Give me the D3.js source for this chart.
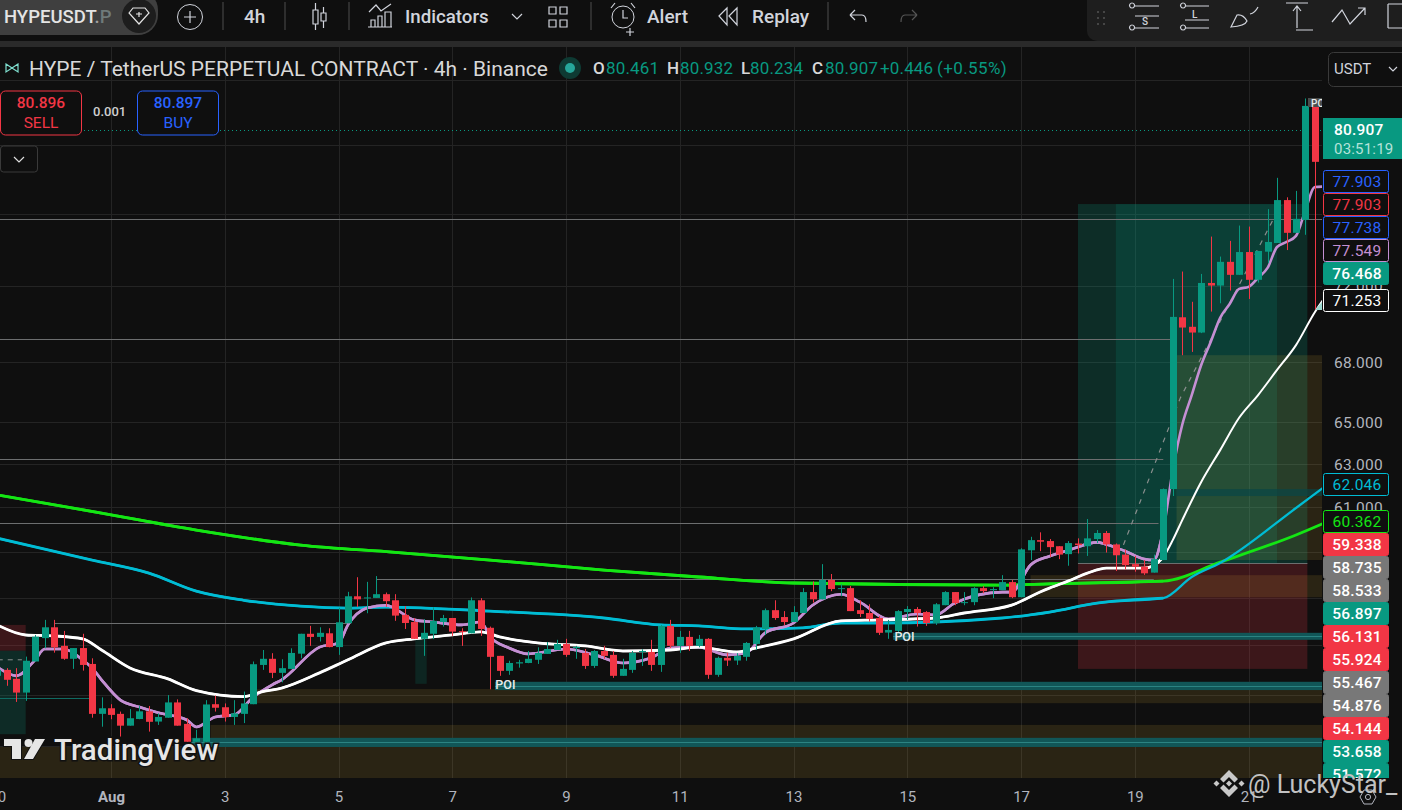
<!DOCTYPE html>
<html lang="en">

<head>
    <meta charset="UTF-8" />
    <title>HYPEUSDT.P 4h</title>
    <script src="https://d3js.org/d3.v7.min.js"></script>
    <style>
        html, body { margin: 0; padding: 0; background: #0f0f0f; overflow: hidden; }
        svg { display: block; }
        text { font-family: Roboto, sans-serif; }
        .tick line, .domain { display: none; }
    </style>
</head>

<body>
    <div id="chart"></div>

    <script>
        // candles, 4h bars, bar 0 = Aug 1 00:00, first bar = -12
        const firstBar = -12;
        const opens = [
            53.76,54.00,53.64,53.09,54.34,55.30,55.75,54.98,54.45,54.89,
            54.24,52.25,52.47,52.25,51.79,52.05,52.35,51.95,52.10,52.70,
            51.86,51.17,51.17,52.63,52.51,52.13,52.25,52.63,54.20,54.45,
            53.88,54.04,54.66,55.48,55.35,55.50,54.93,55.92,57.06,56.99,
            56.99,57.15,56.89,56.27,55.97,55.27,55.48,55.97,56.14,55.59,
            55.50,56.89,55.73,54.57,53.96,54.26,54.28,54.41,54.65,54.81,
            55.06,54.89,54.69,54.16,54.77,54.61,53.76,54.00,54.74,54.73,
            54.20,55.81,54.98,55.35,54.98,55.27,53.80,54.49,54.38,54.53,
            55.06,55.68,56.47,56.18,55.97,56.35,57.24,56.93,57.76,57.38,
            57.41,56.47,56.35,56.14,55.53,55.60,56.39,56.52,56.39,55.93,
            56.68,57.24,56.78,56.81,57.41,57.32,57.32,57.67,57.02,59.06,
            59.51,59.47,59.24,58.89,59.36,59.24,59.56,59.83,59.32,58.87,
            58.45,58.34,58.08,58.63,61.83,70.32,69.82,69.52,72.15,72.01,
            73.30,72.59,73.84,72.32,73.86,74.34,76.77,74.91,75.64,82.38
        ];
        const highs = [
            54.20,54.07,54.07,54.54,55.43,56.06,56.06,55.60,54.89,55.48,
            54.47,52.90,52.63,52.34,52.44,52.57,52.56,52.27,52.99,52.82,
            52.08,51.63,52.79,52.97,52.66,52.79,53.13,54.34,54.81,54.68,
            54.43,54.88,55.48,55.81,55.75,55.71,56.57,57.25,57.88,57.68,
            57.93,57.22,57.15,56.64,56.13,56.09,56.59,56.27,56.14,55.71,
            57.01,56.98,55.78,54.57,54.37,54.41,54.77,54.92,55.14,55.23,
            55.27,54.98,54.85,54.81,54.98,54.77,54.45,54.77,54.84,55.23,
            55.85,56.06,55.60,55.60,55.43,55.30,54.54,54.70,54.68,55.14,
            55.81,56.54,56.89,56.43,56.64,57.41,57.70,58.45,58.02,57.58,
            57.50,56.89,56.72,56.22,56.06,56.47,56.64,56.60,56.43,56.77,
            57.28,57.24,57.24,57.45,57.50,57.45,57.97,57.76,59.15,59.66,
            59.86,59.56,59.24,59.47,59.59,60.46,59.96,59.92,59.36,59.10,
            58.81,58.63,58.87,61.86,72.37,72.77,71.14,72.64,74.70,73.59,
            74.46,75.32,75.26,73.90,76.25,78.06,76.93,77.30,82.84,82.54
        ];
        const lows = [
            53.60,53.36,52.72,52.76,54.34,54.88,54.70,54.41,54.04,53.97,
            52.10,51.75,52.04,51.37,51.79,52.04,51.56,51.82,52.10,51.79,
            51.17,51.17,51.13,52.34,51.95,51.82,51.89,52.63,54.00,53.67,
            53.50,54.04,54.47,54.98,55.16,54.92,54.61,55.92,56.61,56.34,
            56.99,56.61,56.02,55.68,55.27,54.57,55.26,55.78,55.39,54.98,
            55.50,55.39,53.22,53.76,53.80,54.09,54.27,54.24,54.65,54.81,
            54.53,54.45,54.04,54.08,54.45,53.68,53.76,53.88,54.16,53.96,
            53.92,54.89,54.69,54.77,54.92,53.64,53.72,54.16,54.20,54.37,
            54.81,55.43,56.06,55.84,55.97,56.35,56.79,56.93,57.28,57.06,
            56.43,56.18,55.99,55.43,55.27,55.52,56.06,55.78,55.81,55.85,
            56.68,56.68,56.68,56.68,57.19,56.98,57.32,56.98,57.02,58.63,
            59.02,58.77,58.67,58.38,58.92,58.81,59.38,58.96,58.15,58.22,
            58.12,57.98,58.08,58.63,61.51,68.35,68.52,69.49,70.62,71.06,
            71.74,72.59,71.29,72.17,73.23,74.34,73.95,74.91,74.80,70.71
        ];
        const closes = [
            54.00,53.60,53.09,54.37,55.36,55.75,54.92,54.45,54.89,54.20,
            52.25,52.47,52.21,51.79,52.08,52.35,51.94,52.13,52.70,51.79,
            51.17,51.30,52.62,52.49,52.12,52.27,52.66,54.23,54.45,53.88,
            54.07,54.69,55.48,55.35,55.52,54.93,55.96,57.06,56.93,57.01,
            57.15,56.85,56.24,55.93,55.27,55.52,56.02,56.14,55.57,55.56,
            56.89,55.68,54.53,53.96,54.28,54.31,54.45,54.69,54.85,55.06,
            54.61,54.94,54.16,54.77,54.57,53.76,54.04,54.69,54.77,54.20,
            55.81,54.98,55.35,54.98,55.27,53.80,54.49,54.38,54.57,55.10,
            55.73,56.47,56.14,55.97,56.39,57.24,56.93,57.76,57.37,57.41,
            56.43,56.31,56.10,55.52,55.64,56.43,56.52,56.35,55.93,56.72,
            57.24,56.77,56.81,57.41,57.28,57.37,57.67,57.02,59.10,59.51,
            59.44,59.20,58.87,59.38,59.29,59.59,59.83,59.32,58.84,58.41,
            58.34,58.05,58.67,61.83,70.34,69.78,69.52,72.15,72.01,73.30,
            72.59,73.84,72.32,73.90,74.40,76.77,74.91,75.70,82.38,79.00
        ];

        // moving averages: [bar, price]
        const purpleMa = [[-12,54.12],[-10,53.76],[-8,54.41],[-7,54.85],[-5,54.85],[-3,54.41],[-2,54.08],[-1,53.60],[1,52.79],[3,52.52],[5,52.29],[8,52.01],[9,51.74],[11,52.13],[13,52.21],[15,52.91],[17,53.40],[18,53.60],[22,54.93],[24,55.10],[25,55.85],[27,56.56],[29,56.68],[32,56.06],[34,55.97],[37,55.85],[39,55.97],[40,55.35],[42,54.89],[44,54.65],[45,54.69],[48,54.85],[51,54.61],[54,54.28],[57,54.49],[59,54.89],[62,54.93],[65,54.61],[67,54.69],[69,55.52],[72,55.93],[74,56.68],[77,57.15],[79,56.81],[82,56.10],[85,56.31],[87,56.27],[89,56.77],[94,57.24],[95,57.24],[97,58.41],[99,58.80],[101,59.06],[104,59.41],[105,59.32],[107,59.02],[109,58.67],[110,58.63],[111,59.96],[112,62.72],[113,64.88],[114,66.34],[115,67.85],[116,69.03],[117,70.29],[118,71.02],[119,71.83],[120,71.94],[121,72.43],[122,72.97],[123,74.12],[124,74.40],[125,74.74],[126,76.21],[127,77.53],[128,77.55]];
        const whiteMa = [[-12,55.85],[-9,55.43],[-6,55.39],[-3,55.27],[-1,54.81],[2,54.08],[6,53.64],[9,53.17],[14,52.93],[16,53.13],[18,53.27],[22,53.88],[25,54.41],[29,55.10],[32,55.27],[36,55.43],[39,55.56],[41,55.35],[45,55.10],[50,54.98],[54,54.77],[59,54.81],[62,54.93],[66,54.73],[68,54.89],[72,55.27],[77,56.02],[81,56.06],[87,56.14],[90,56.35],[95,56.68],[98,57.24],[99,57.41],[101,57.72],[103,58.06],[105,58.28],[109,58.28],[110,58.39],[111,58.76],[112,59.51],[113,60.41],[115,62.16],[117,63.66],[119,65.22],[121,66.34],[123,67.60],[125,68.87],[127,70.60],[128,71.34]];
        const cyanMa = [[-12,59.60],[-2,58.63],[4,58.06],[9,57.28],[14,56.89],[20,56.64],[25,56.56],[29,56.60],[40,56.43],[52,56.14],[58,55.85],[62,55.81],[67,55.68],[73,55.73],[77,55.93],[81,55.93],[94,56.14],[99,56.39],[104,56.77],[111,56.98],[114,57.89],[117,58.50],[125,60.96],[128,61.93]];
        const limeMa = [[-12,61.56],[-1,60.73],[9,59.96],[20,59.29],[30,58.97],[40,58.63],[52,58.19],[62,57.89],[72,57.63],[94,57.54],[99,57.59],[111,57.71],[117,58.54],[125,59.74],[128,60.28]];

        // drawn zones: [bar from, bar to, price high, price low]
        const oliveZones = [[15,129,53.23,52.67],[10.5,129,51.82,50.97],[-13,129,50.97,49.80],[97,129,57.97,57.02],[112.4,129,68.35,58.63]];
        const poiBands = [[40.5,129,53.52,53.19],[8.5,129,51.32,50.97],[82.5,129,55.52,55.23]];
        const longBox = [102,126.2,76.54,58.50];
        const longInner = [106,123,76.54,58.50];
        const stopBox = [102,126.2,58.50,54.04];
        const oldStop = [-13,-9,55.85,54.78];
        const oldTarget = [-13,-9,54.78,51.46];
        const oldShade = [32.1,33.3,55.27,53.44];
        const targetBar = [112.4,129,61.83,61.51];

        // thin drawn lines: [bar from, bar to, price]
        const levelLines = [[-13,129,75.70],[-13,111.8,69.19],[-13,111,63.24],[-13,110.5,60.28],[28,110,57.80],[-6,25,55.93],[102,126.2,58.50]];
        const dashedPath = [[106.8,59.3],[112.8,66.2],[123.4,76.5]];
        const oldDashed = [[-13,54.41],[-9.4,54.41]];

        const priceTicks = [51,53,55,57,59,61,63,65,68,72,76,80,84];
        const labelledTicks = [61,63,65,68,72];
        const timeBars = [-12,0,12,24,36,48,60,72,84,96,108,120];
        const timeLabels = ["30","Aug","3","5","7","9","11","13","15","17","19","21"];

        const lastPrice = 80.907;
        const labelPrices = [77.903,77.903,77.738,77.549,76.468,71.253,62.046,60.362,59.338,58.735,58.533,56.897,56.131,55.924,55.467,54.876,54.144,53.658,51.572];
        const labelKinds = ["blue","red","blue","purple","fillGreen","white","cyan","lime","fillRed","fillGray","fillGray","fillGreen","fillRed","fillRed","fillGray","fillGray","fillRed","fillGreen","fillGreen"];

        const legendText = ["80.461","80.932","80.234","80.907"];

        const W = 1402, H = 810;
        const plotRight = 1322, plotTop = 46, plotBottom = 778;
        const bg = "#0f0f0f", up = "#089981", down = "#f23645", textGray = "#b2b5be";

        const svg = d3.select("#chart").append("svg").attr("width", W).attr("height", H);
        svg.append("rect").attr("width", W).attr("height", H).attr("fill", bg);

        const x = d3.scaleLinear().domain([-12, 128]).range([-2.76, 1324.44]);
        const y = d3.scaleLog().domain([49.80, 86.16]).range([plotBottom, plotTop]);

        svg.append("clipPath").attr("id", "plot").append("rect")
            .attr("x", 0).attr("y", plotTop).attr("width", plotRight).attr("height", plotBottom - plotTop);

        const plot = svg.append("g").attr("clip-path", "url(#plot)");

        // grid
        plot.selectAll(".hgrid").data(priceTicks).join("line")
            .attr("x1", 0).attr("x2", plotRight)
            .attr("y1", d => Math.round(y(d)) + 0.5).attr("y2", d => Math.round(y(d)) + 0.5)
            .attr("stroke", "#242424");
        plot.selectAll(".vgrid").data(timeBars).join("line")
            .attr("x1", d => Math.round(x(d)) + 0.5).attr("x2", d => Math.round(x(d)) + 0.5)
            .attr("y1", plotTop).attr("y2", plotBottom)
            .attr("stroke", "#242424");

        function zone(z, fill) {
            plot.append("rect")
                .attr("x", x(z[0])).attr("width", x(z[1]) - x(z[0]))
                .attr("y", y(z[2])).attr("height", y(z[3]) - y(z[2]))
                .attr("fill", fill);
        }

        // position boxes
        zone(longBox, "rgba(8,153,129,0.22)");
        zone(longInner, "rgba(8,153,129,0.17)");
        zone(stopBox, "rgba(242,54,69,0.2)");
        zone(oldStop, "rgba(242,54,69,0.2)");
        zone(oldTarget, "rgba(8,153,129,0.2)");
        zone(oldShade, "rgba(8,153,129,0.16)");

        oliveZones.forEach(z => zone(z, "rgba(255,200,60,0.115)"));
        zone(targetBar, "rgba(8,70,70,0.7)");

        poiBands.forEach(z => {
            zone(z, "#115657");
            const mid = Math.round(y((z[2] + z[3]) / 2)) + 0.5;
            plot.append("line")
                .attr("x1", x(z[0])).attr("x2", x(z[1]))
                .attr("y1", mid).attr("y2", mid)
                .attr("stroke", "#2b8382").attr("stroke-width", 1);
        });

        levelLines.forEach(l => {
            const ly = Math.round(y(l[2])) + 0.5;
            plot.append("line")
                .attr("x1", x(l[0])).attr("x2", x(l[1]))
                .attr("y1", ly).attr("y2", ly)
                .attr("stroke", "#6c6e6f");
        });
        plot.append("line").attr("x1", 0).attr("x2", x(-2))
            .attr("y1", Math.round(y(52.87)) + 0.5).attr("y2", Math.round(y(52.87)) + 0.5)
            .attr("stroke", "#0f6b62");

        // current price, dotted
        plot.append("line").attr("x1", 0).attr("x2", plotRight)
            .attr("y1", Math.round(y(lastPrice)) + 0.5).attr("y2", Math.round(y(lastPrice)) + 0.5)
            .attr("stroke", up).attr("stroke-dasharray", "1 3");

        const maLine = d3.line().x(d => x(d[0])).y(d => y(d[1])).curve(d3.curveMonotoneX);
        const straight = d3.line().x(d => x(d[0])).y(d => y(d[1]));

        plot.append("path").attr("d", straight(dashedPath))
            .attr("fill", "none").attr("stroke", "#8a8f8e").attr("stroke-width", 1.2).attr("stroke-dasharray", "5 6");
        plot.append("path").attr("d", straight(oldDashed))
            .attr("fill", "none").attr("stroke", "#8a8f8e").attr("stroke-width", 1).attr("stroke-dasharray", "5 5");

        // the averages get thinner after the jump at bar 111
        function drawMa(points, col, w, wThin) {
            plot.append("path").attr("d", maLine(points)).attr("fill", "none").attr("stroke", col).attr("stroke-width", wThin);
            plot.append("path").attr("d", maLine(points.filter(p => p[0] <= 111))).attr("fill", "none").attr("stroke", col).attr("stroke-width", w);
        }
        drawMa(limeMa, "#14e614", 2.8, 2.8);
        drawMa(cyanMa, "#00bcd4", 2.8, 2.2);
        drawMa(purpleMa, "#c48fd3", 2.6, 2.6);
        drawMa(whiteMa, "#ffffff", 2.8, 2);

        // candles
        const candles = opens.map((o, i) => ({ bar: firstBar + i, o, h: highs[i], l: lows[i], c: closes[i] }));
        const candleW = 7;
        const candle = plot.selectAll(".candle").data(candles).join("g");
        candle.append("line")
            .attr("x1", d => Math.round(x(d.bar)) + 0.5).attr("x2", d => Math.round(x(d.bar)) + 0.5)
            .attr("y1", d => y(d.h)).attr("y2", d => y(d.l))
            .attr("stroke", d => d.c >= d.o ? up : down);
        candle.append("rect")
            .attr("x", d => Math.round(x(d.bar)) + 0.5 - candleW / 2)
            .attr("width", candleW)
            .attr("y", d => y(Math.max(d.o, d.c)))
            .attr("height", d => Math.max(1, Math.abs(y(d.o) - y(d.c))))
            .attr("fill", d => d.c >= d.o ? up : down);

        // POI labels
        [[41.6, 53.4], [83.7, 55.38]].forEach(p => {
            plot.append("text").attr("x", x(p[0])).attr("y", y(p[1]))
                .attr("text-anchor", "middle").attr("dy", "0.36em")
                .attr("font-size", 12.5).attr("fill", "#e8ecec").attr("font-weight", 500).text("POI");
        });
        plot.append("rect").attr("x", 1308).attr("y", 98).attr("width", 14).attr("height", 9).attr("fill", "#4a4d4c");
        plot.append("text").attr("x", 1311).attr("y", 106.5).attr("font-size", 10).attr("fill", "#e8ecec").attr("font-weight", 500).text("PO");
        plot.append("path").attr("d", "M1315 310L1322 302V310Z").attr("fill", "#9ad8cf");

        // price axis
        const yAxis = d3.axisRight(y).tickValues(labelledTicks).tickFormat(d3.format(".3f")).tickSize(0);
        svg.append("g").attr("transform", "translate(1330,0)").call(yAxis)
            .call(g => g.selectAll("text").attr("font-size", 15.5).attr("fill", textGray).attr("x", 4)
                .attr("letter-spacing", 0.2).attr("font-family", "Roboto"));

        // price labels stacked without overlap
        const kinds = {
            blue: { fill: bg, stroke: "#2962ff", text: "#2962ff" },
            red: { fill: bg, stroke: down, text: down },
            purple: { fill: bg, stroke: "#c48fd3", text: "#c48fd3" },
            white: { fill: bg, stroke: "#ffffff", text: "#ffffff" },
            cyan: { fill: bg, stroke: "#00bcd4", text: "#00bcd4" },
            lime: { fill: bg, stroke: "#14e614", text: "#14e614" },
            fillGreen: { fill: up, stroke: up, text: "#ffffff" },
            fillRed: { fill: down, stroke: down, text: "#ffffff" },
            fillGray: { fill: "#787878", stroke: "#787878", text: "#ffffff" }
        };
        let prevTop = -100;
        const labelRows = labelPrices.map((p, i) => {
            const top = Math.max(y(p) - 11, prevTop + 23);
            prevTop = top;
            return { p, kind: kinds[labelKinds[i]], top };
        });
        const labels = svg.selectAll(".plabel").data(labelRows).join("g")
            .attr("transform", d => `translate(1323.5,${Math.round(d.top) + 0.5})`);
        labels.append("rect").attr("width", 65).attr("height", 22).attr("rx", 2)
            .attr("fill", d => d.kind.fill).attr("stroke", d => d.kind.stroke);
        labels.append("text").attr("x", 33.5).attr("y", 11).attr("dy", "0.36em")
            .attr("text-anchor", "middle").attr("font-size", 15.5).attr("letter-spacing", 0.2)
            .attr("font-weight", d => d.kind.fill === bg ? 400 : 500)
            .attr("fill", d => d.kind.text).text(d => d.p.toFixed(3));

        // last price box
        svg.append("rect").attr("x", 1323).attr("y", 118).attr("width", 79).attr("height", 41).attr("fill", up);
        svg.append("text").attr("x", 1334).attr("y", 135).attr("font-size", 15.5).attr("font-weight", 500).attr("letter-spacing", 0.2).attr("fill", "#fff").text(lastPrice.toFixed(3));
        svg.append("text").attr("x", 1334).attr("y", 154).attr("font-size", 15).attr("letter-spacing", 0.2).attr("fill", "#b5e3da").text("03:51:19");

        // bottom strip + time axis
        svg.append("rect").attr("y", plotBottom).attr("width", W).attr("height", H - plotBottom).attr("fill", bg);
        const xAxis = d3.axisBottom(x).tickValues(timeBars)
            .tickFormat((d, i) => timeLabels[i]).tickSize(0);
        svg.append("g").attr("transform", "translate(0,788)").call(xAxis)
            .call(g => g.selectAll("text")
                .attr("font-size", 15).attr("fill", textGray).attr("y", 0).attr("dy", "0.9em")
                .attr("font-family", "Roboto").attr("font-weight", d => d === 0 ? 700 : 400));

        // watermarks
        const wm = svg.append("g");
        wm.append("path").attr("d", "M4 739H21V759H12V746H4Z M35 739H45L33 759H24Z")
            .attr("fill", "#e6e6e6").attr("stroke", "#111").attr("stroke-width", 2).attr("paint-order", "stroke");
        wm.append("circle").attr("cx", 28.5).attr("cy", 743).attr("r", 4).attr("fill", "#e6e6e6");
        wm.append("text").attr("x", 54).attr("y", 760).attr("font-size", 29.5).attr("font-weight", 500)
            .attr("fill", "#e6e6e6").attr("stroke", "#111").attr("stroke-width", 3).attr("paint-order", "stroke").text("TradingView");

        // binance mark
        const bn = svg.append("g").attr("fill", "#c9c9c9");
        bn.append("path").attr("d", "M1229 770L1238 779L1234.500 782.500L1229 777L1223.500 782.500L1220 779Z");
        bn.append("path").attr("d", "M1229 797L1238 788L1234.500 784.500L1229 790L1223.500 784.500L1220 788Z");
        [[1229, 783.5], [1216.5, 783.5], [1241.5, 783.5]].forEach(d => {
            bn.append("path").attr("d", `M${d[0]} ${d[1] - 3}L${d[0] + 3} ${d[1]}L${d[0]} ${d[1] + 3}L${d[0] - 3} ${d[1]}Z`);
        });
        svg.append("text").attr("x", 1248).attr("y", 793).attr("font-size", 25).attr("fill", "#c2c2c2").text("@ LuckyStar_");
        svg.append("path").attr("d", "M1360 797l4 -7h8l4 7l-4 7h-8Z").attr("fill", "none").attr("stroke", "#b2b5be");
        svg.append("circle").attr("cx", 1368).attr("cy", 797).attr("r", 2.6).attr("fill", "none").attr("stroke", "#b2b5be");

        // ---- header ----
        const stroke = "#d1d4dc";
        function icon(d, col) {
            svg.append("path").attr("d", d).attr("fill", "none").attr("stroke", col || stroke).attr("stroke-width", 1.2);
        }
        function label(tx, ty, txt, size, col, weight) {
            return svg.append("text").attr("x", tx).attr("y", ty).attr("font-size", size)
                .attr("fill", col || stroke).attr("font-weight", weight || 400).text(txt);
        }

        svg.append("rect").attr("y", 0).attr("width", W).attr("height", 41).attr("fill", bg);
        svg.append("rect").attr("y", 41).attr("width", W).attr("height", 6).attr("fill", "#2a2a2a");
        svg.append("rect").attr("x", -20).attr("y", -10).attr("width", 178).attr("height", 45).attr("rx", 20).attr("fill", "#3f3f3f");
        const sym = label(4, 23, "HYPEUSDT", 18.5, "#e4e4e4", 500);
        sym.append("tspan").text(".").attr("fill", "#a0a0a0");
        sym.append("tspan").text("P").attr("fill", "#6f7a7a");
        svg.append("circle").attr("cx", 139).attr("cy", 16).attr("r", 17).attr("fill", "#1d1d1d");
        icon("M129 13L133 8H145L149 13L139 24Z M139 12V17M136 14H142", "#e4e4e4");
        svg.append("circle").attr("cx", 190).attr("cy", 17).attr("r", 12.5).attr("fill", "none").attr("stroke", stroke);
        icon("M190 11V23M184 17H196");
        [223, 285, 349, 591, 828].forEach(sx => svg.append("line").attr("x1", sx).attr("x2", sx).attr("y1", 2).attr("y2", 30).attr("stroke", "#3a3a3a").attr("stroke-width", 1.5));
        label(244, 23, "4h", 19, stroke, 500);
        icon("M313 10H318V24H313Z M315.500 3V10M315.500 24V30M321 13H326V21H321Z M323.500 7V13M323.500 21V28");
        icon("M369 12L376 5L381 11L391 4M371 27V20H375V27M378 27V16H382V27M385 27V12H391V27M368 27H392");
        label(405, 23, "Indicators", 18.7, stroke, 500);
        icon("M512 14L517 19L522 14");
        icon("M549 7h7v7h-7Z M560 7h7v7h-7Z M549 20h7v7h-7Z M560 20h7v7h-7Z");
        svg.append("circle").attr("cx", 623).attr("cy", 17).attr("r", 11).attr("fill", "none").attr("stroke", stroke);
        icon("M623 10V18H628M611 8L615 3M635 8L631 3M630 28V36M626 32H634");
        label(647, 23, "Alert", 19, stroke, 500);
        icon("M719 16L727 8V25Z M729 16L737 8V25Z");
        label(752, 23, "Replay", 19, stroke, 500);
        icon("M850 15H862Q866 15 866 22M850 15L855 10M850 15L855 20");
        icon("M917 15H905Q901 15 901 22M917 15L912 10M917 15L912 20", "#555");

        svg.append("rect").attr("x", 1087).attr("y", -10).attr("width", 330).attr("height", 51).attr("rx", 10).attr("fill", "#1e1e1e");
        svg.append("g").attr("fill", "#555").selectAll("circle")
            .data([[1098, 12], [1098, 18], [1098, 24], [1104, 12], [1104, 18], [1104, 24]]).join("circle")
            .attr("cx", d => d[0]).attr("cy", d => d[1]).attr("r", 1);
        icon("M1135 6H1159M1135 16H1159M1135 28H1159M1132 3a2.500 2.500 0 1 0 .1 0M1132 25a2.500 2.500 0 1 0 .1 0");
        label(1142, 25, "S", 10, stroke, 500);
        icon("M1185 6H1209M1185 20H1209M1185 28H1209M1183 3a2.500 2.500 0 1 0 .1 0M1183 25a2.500 2.500 0 1 0 .1 0");
        label(1192, 18, "L", 10, stroke, 500);
        icon("M1231 27L1237 15Q1243 14 1247 21Q1245 26 1231 27Z M1250 14Q1255 13 1258 7");
        icon("M1286 3H1308M1297 28V6M1293 11L1297 6L1301 11M1296 30H1313");
        icon("M1332 22L1342 10L1350 24L1365 8M1358 8H1365V15");
        icon("M1388 4V28M1388 4H1402M1388 28H1402");

        // legend row
        icon("M6 64L12 68L6 72Z M18 64L12 68L18 72Z", "#7fe0d0");
        label(29, 76, "HYPE / TetherUS PERPETUAL CONTRACT · 4h · Binance", 21, "#d8d8d8", 400);
        svg.append("circle").attr("cx", 570).attr("cy", 68).attr("r", 11).attr("fill", "#0e3a33");
        svg.append("circle").attr("cx", 570).attr("cy", 68).attr("r", 5).attr("fill", "#26a69a");
        [["O", 593], ["H", 667], ["L", 741], ["C", 812]].forEach((l, i) => {
            label(l[1], 74, l[0], 17, "#d8d8d8", 500);
            label(l[1] + (l[0] === "L" ? 9 : 13), 74, legendText[i], 17, up, 400).attr("letter-spacing", 0.15);
        });
        label(880, 74, "+0.446", 17, up).attr("letter-spacing", 0.15);
        label(937, 74, "(+0.55%)", 17, up).attr("letter-spacing", 0.4);

        // USDT box
        svg.append("rect").attr("x", 1328.5).attr("y", 52.5).attr("width", 90).attr("height", 34).attr("rx", 5).attr("fill", bg).attr("stroke", "#3a3a3a");
        label(1334, 74, "USDT", 15, stroke, 400);
        icon("M1389 67L1393 71L1397 67");

        // order buttons
        function orderBox(bx, w, col, price, side) {
            svg.append("rect").attr("x", bx).attr("y", 91).attr("width", w).attr("height", 44).attr("rx", 5).attr("fill", bg).attr("stroke", col);
            svg.append("text").attr("x", bx + w / 2).attr("y", 108).attr("text-anchor", "middle").attr("font-size", 15.5).attr("font-weight", 500).attr("fill", col).text(price);
            svg.append("text").attr("x", bx + w / 2).attr("y", 128).attr("text-anchor", "middle").attr("font-size", 15.5).attr("fill", col).text(side);
        }
        orderBox(0.5, 81, down, "80.896", "SELL");
        orderBox(137.5, 81, "#2962ff", "80.897", "BUY");
        label(93, 116, "0.001", 13, "#d0d0d0", 500);
        svg.append("rect").attr("x", 0.5).attr("y", 146).attr("width", 37).attr("height", 26).attr("rx", 3).attr("fill", bg).attr("stroke", "#3a3a3a");
        icon("M14 157L19 162L24 157", "#e0e0e0");
    </script>

</body>

</html>
